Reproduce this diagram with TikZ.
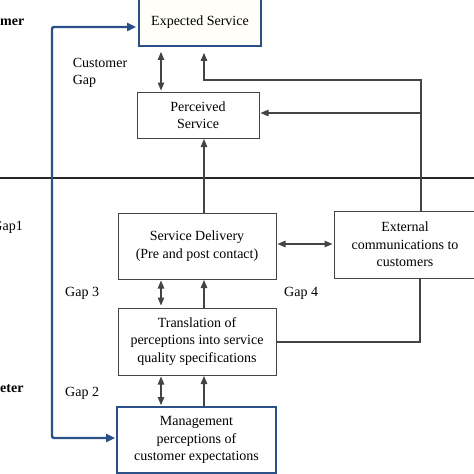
\documentclass[tikz,border=0pt]{standalone}
\usepackage{fontspec}
\setmainfont{Liberation Serif}
\usetikzlibrary{arrows.meta}
\definecolor{bl}{HTML}{2B5088}
\definecolor{ln}{HTML}{444444}
\tikzset{
  box/.style={draw=ln, line width=1pt, align=center, inner sep=2pt, font=\fontsize{14}{17.5}\selectfont, text=black},
  bluebox/.style={box, draw=bl, line width=1.8pt},
  conn/.style={draw=ln, line width=1.1pt},
  arr/.style={conn, -{Triangle[length=8pt,width=6.5pt]}},
  darr/.style={conn, {Triangle[length=8pt,width=6.5pt]}-{Triangle[length=8pt,width=6.5pt]}},
  lbl/.style={font=\fontsize{14}{17}\selectfont, align=left, text=black, inner sep=0pt},
  side/.style={font=\fontsize{14}{17}\selectfont\bfseries, inner sep=0pt, text=black},
  bluearr/.style={draw=bl, line width=2.4pt, rounded corners=2pt, {Triangle[length=9pt,width=8pt]}-{Triangle[length=9pt,width=8pt]}}
}
\begin{document}
\begin{tikzpicture}[x=1pt,y=-1pt]
\useasboundingbox (0,0) rectangle (474,474);
% boxes
\node[bluebox, minimum width=122pt, minimum height=47pt, fill=yellow!3] (exp) at (200,22.5) {Expected Service};
\node[box, minimum width=122pt, minimum height=46pt] (per) at (198,115) {Perceived\\Service};
\node[box, minimum width=158pt, minimum height=66pt] (sd) at (197,246) {Service Delivery\\(Pre and post contact)};
\node[box, minimum width=142pt, minimum height=67pt] (ext) at (405,244.5) {External\\communications to\\customers};
\node[box, minimum width=158pt, minimum height=67pt] (tr) at (197,341.5) {Translation of\\perceptions into service\\quality specifications};
\node[bluebox, minimum width=159pt, minimum height=66pt] (mg) at (196.5,440) {Management\\perceptions of\\customer expectations};
% labels
\node[side, anchor=west] (cust) at (0,22) {mer};
\node[side, anchor=west] (mark) at (0,389) {eter};
\node[lbl] (cg) at (100,72.5) {Customer\\Gap};
\node[lbl, anchor=east] (g1) at (23,227) {Gap1};
\node[lbl, anchor=west] (g3) at (65,293) {Gap 3};
\node[lbl, anchor=west] (g4) at (284,293) {Gap 4};
\node[lbl, anchor=west] (g2) at (65,393) {Gap 2};
% helper coordinates
\coordinate (cA) at (161,0);
\coordinate (cB) at (204,0);
\coordinate (k1) at (421,80);
\coordinate (k2) at (421,113);
\coordinate (k3) at (420,342);
\coordinate (hl) at (0,178);
\coordinate (hr) at (474,178);
\coordinate (bt) at (52,27);
\coordinate (bb) at (52,438);
\coordinate (m244) at (0,244);
% divider
\draw[conn, line width=1.3pt, draw=black!85] (hl) -- (hr);
% connectors
\draw[darr, shorten <=5pt, shorten >=1pt] (exp.south -| cA) -- (per.north -| cA);
\draw[arr, shorten >=6pt] (ext.north -| k1) -- (k1) -| (exp.south -| cB);
\draw[arr, shorten >=1pt] (k2) -- (k2 -| per.east);
\draw[arr, shorten >=0.5pt] (sd.north -| cB) -- (per.south -| cB);
\draw[darr, shorten <=1pt, shorten >=1pt] (sd.east |- m244) -- (ext.west |- m244);
\draw[darr, shorten <=1pt, shorten >=2pt] (sd.south -| cA) -- (tr.north -| cA);
\draw[arr, shorten >=0.5pt] (tr.north -| cB) -- (sd.south -| cB);
\draw[darr, shorten <=1pt, shorten >=1pt] (tr.south -| cA) -- (mg.north -| cA);
\draw[arr, shorten >=0.5pt] (mg.north -| cB) -- (tr.south -| cB);
\draw[conn] (tr.east |- k3) -- (k3) -- (k3 |- ext.south);
\draw[bluearr, shorten <=1pt, shorten >=2pt] (bb -| mg.west) -- (bb) -- (bt) -- (bt -| exp.west);
\end{tikzpicture}
\end{document}
